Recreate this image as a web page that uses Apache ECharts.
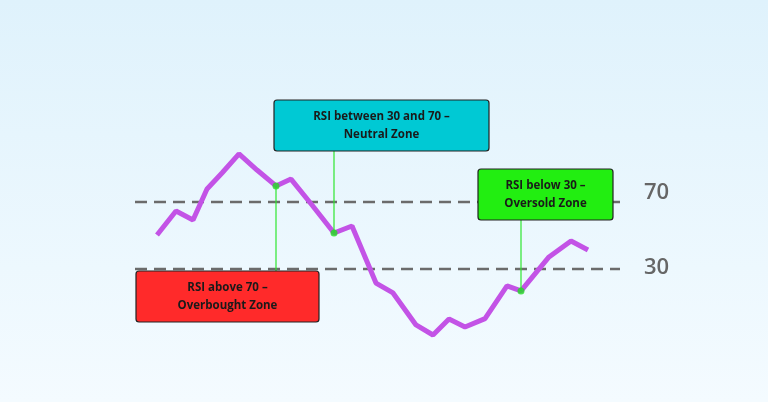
<!DOCTYPE html>
<html><head><meta charset="utf-8">
<script src="https://cdn.jsdelivr.net/npm/echarts@6/dist/echarts.min.js"></script>
<style>html,body{margin:0;padding:0;}#c{width:768px;height:402px;background:linear-gradient(#dff2fc,#f4fbff);}</style>
</head><body><div id="c"></div>
<script>
const xs = [157,176,193,207,222,239,257,276,291,312,334,352,376,393,416,433,449,465,485,507,521,549,571,588];
const rsi = [50.3,64.6,59.3,77.8,87.3,98.7,89.1,79.6,83.7,68.2,51.5,55.7,21.6,15.7,-3.4,-9.4,0.1,-4.6,0.4,19.9,16.9,37.2,46.7,41.3];
const levels = [70, 30];
const levelLabels = ['70', '30'];
const labelOffsets = [[16,-9],[16,-1]];
const notes = [
  {text:'RSI above 70 –\nOverbought Zone', color:'#ff2a2a', idx:7, box:[136,271,183,51], anchorY:'top'},
  {text:'RSI between 30 and 70 –\nNeutral Zone', color:'#00c9d4', idx:10, box:[274,100,215,51], anchorY:'bottom'},
  {text:'RSI below 30 –\nOversold Zone', color:'#22ee11', idx:20, box:[478,169,135,51], anchorY:'bottom'}
];
const chart = echarts.init(document.getElementById('c'));
const series = [{
  type:'line', data: xs.map((x,i)=>[x,rsi[i]]), symbol:'none',
  lineStyle:{color:'#c353e6', width:5}, z:3
}];
levels.forEach((lv,i)=>{
  series.push({type:'line', data:[[135,lv],[620,lv]], symbol:'none', silent:true,
    lineStyle:{color:'#6b6b6b', width:2.5, type:[12,7]}, z:2,
    endLabel:{show:true, formatter:levelLabels[i], color:'#666', fontSize:22, fontWeight:600, fontFamily:'Open Sans', offset:labelOffsets[i]}});
});
notes.forEach(n=>{
  series.push({type:'scatter', data:[[xs[n.idx], rsi[n.idx]]], symbolSize:7, itemStyle:{color:'#22dd22'}, z:5});
});
chart.setOption({
  animation:false,
  grid:{left:0,right:0,top:0,bottom:0},
  xAxis:{type:'value', min:0, max:768, show:false},
  yAxis:{type:'value', min:-49.4, max:190.6, show:false},
  series
});
const g = [];
notes.forEach(n=>{
  const p = chart.convertToPixel({seriesIndex:0}, [xs[n.idx], rsi[n.idx]]);
  const [bx,by,bw,bh] = n.box;
  const edge = n.anchorY==='top' ? by : by+bh;
  g.push({type:'line', shape:{x1:p[0],y1:p[1],x2:p[0],y2:edge}, style:{stroke:'#2ee62e', lineWidth:1.2}, z:4});
  g.push({type:'rect', shape:{x:bx,y:by,width:bw,height:bh,r:3}, style:{fill:n.color, stroke:'#222', lineWidth:1.2}, z:6});
  g.push({type:'text', x:bx+bw/2, y:by+bh/2, style:{text:n.text, fill:'#1a1a1a', font:'bold 11.5px "Open Sans"', align:'center', verticalAlign:'middle', lineHeight:18}, z:7});
});
chart.setOption({graphic:g});
</script></body></html>
